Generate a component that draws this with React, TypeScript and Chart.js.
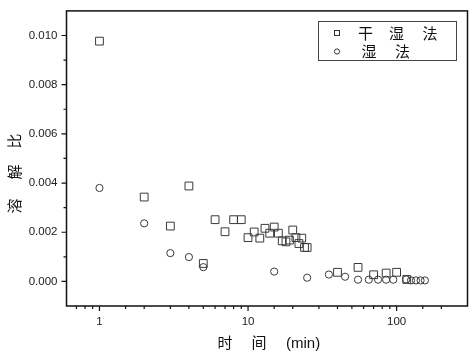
import React, { useEffect, useRef } from "react";
import { Chart, registerables } from "chart.js";
Chart.register(...registerables);

// 干湿法 (squares)
const dryWetX = [1, 2, 3, 4, 5, 6, 7, 8, 9, 10, 11, 12, 13, 14, 15, 16, 17, 18, 19, 20, 21, 22, 23, 24, 25, 40, 55, 70, 85, 100, 117];
const dryWetY = [0.00977, 0.00343, 0.00225, 0.00388, 0.00073, 0.00251, 0.00202, 0.00251, 0.00251, 0.00178, 0.00201, 0.00176, 0.00216, 0.00196, 0.00221, 0.00196, 0.00165, 0.00161, 0.00168, 0.00209, 0.00178, 0.00154, 0.00176, 0.00138, 0.00138, 0.00037, 0.00057, 0.00027, 0.00034, 0.00037, 0.00008];
// 湿法 (circles)
const wetX = [1, 2, 3, 4, 5, 15, 25, 35, 45, 55, 65, 75, 85, 95, 116, 125, 135, 145, 155];
const wetY = [0.0038, 0.00236, 0.00115, 0.00099, 0.00058, 0.0004, 0.00015, 0.00028, 0.00019, 0.00007, 0.00007, 0.00007, 0.00007, 0.00007, 0.00008, 0.00004, 0.00004, 0.00004, 0.00004];

const seriesNames = ["干湿法", "湿法"];
const xTitleParts = ["时", "间", "(min)"];
const yTitleChars = ["溶", "解", "比"];
const xMajorTicks = [1, 10, 100];
const xMin = 0.6;
const xMax = 300;
const yMin = -0.001;
const yMax = 0.011;
const yStep = 0.001;

const isMajorLog = (v: number) => Math.abs(Math.log10(v) - Math.round(Math.log10(v))) < 1e-6;
const isMajorY = (v: number) => Math.abs(Math.round(v * 1000)) % 2 === 0;

const CJK = '"Noto Sans CJK SC", "Noto Sans", sans-serif';
const LAT = '"Liberation Sans", Arial, sans-serif';

const decor = {
  id: "decor",
  afterDraw(chart: any) {
    const { ctx, chartArea: a, scales } = chart;
    const xs = scales.x;
    const ys = scales.y;
    ctx.save();
    // frame
    ctx.strokeStyle = "#111";
    ctx.lineWidth = 1.5;
    ctx.strokeRect(a.left, a.top, a.right - a.left, a.bottom - a.top);
    // ticks
    ctx.lineWidth = 1.2;
    ctx.beginPath();
    xs.ticks.forEach((t: any) => {
      const px = xs.getPixelForValue(t.value);
      if (px < a.left + 1 || px > a.right - 1) return;
      const len = isMajorLog(t.value) ? 5 : 3;
      ctx.moveTo(px, a.bottom);
      ctx.lineTo(px, a.bottom + len);
    });
    ys.ticks.forEach((t: any) => {
      const py = ys.getPixelForValue(t.value);
      if (py < a.top + 1 || py > a.bottom - 1) return;
      const len = isMajorY(t.value) ? 5 : 3;
      ctx.moveTo(a.left, py);
      ctx.lineTo(a.left - len, py);
    });
    ctx.stroke();

    // axis titles
    ctx.fillStyle = "#111";
    ctx.textBaseline = "alphabetic";
    ctx.textAlign = "center";
    ctx.font = `15px ${CJK}`;
    ctx.fillText(xTitleParts[0], 225, 348);
    ctx.fillText(xTitleParts[1], 259, 348);
    ctx.font = `15px ${LAT}`;
    ctx.textAlign = "left";
    ctx.fillText(xTitleParts[2], 286, 348);

    ctx.textBaseline = "middle";
    ctx.font = `15px ${CJK}`;
    ctx.textAlign = "center";
    const yCharPos = [206, 172, 141];
    yTitleChars.forEach((c, i) => {
      ctx.save();
      ctx.translate(14, yCharPos[i]);
      ctx.rotate(-Math.PI / 2);
      ctx.fillText(c, 0, 0);
      ctx.restore();
    });

    // legend
    ctx.strokeStyle = "#444";
    ctx.lineWidth = 1;
    ctx.strokeRect(318.5, 21.5, 138, 39);
    ctx.strokeStyle = "#333";
    ctx.strokeRect(334.5, 30.5, 5, 5);
    ctx.beginPath();
    ctx.arc(337, 51.5, 2.6, 0, Math.PI * 2);
    ctx.stroke();
    ctx.font = `15px ${CJK}`;
    ctx.fillStyle = "#111";
    const row1 = Array.from(seriesNames[0]);
    const row1X = [365.5, 396.5, 430];
    row1.forEach((c, i) => ctx.fillText(c, row1X[i], 33));
    const row2 = Array.from(seriesNames[1]);
    const row2X = [369, 402.5];
    row2.forEach((c, i) => ctx.fillText(c, row2X[i], 51.5));
    ctx.restore();
  },
};

export default function App() {
  const ref = useRef<HTMLCanvasElement | null>(null);
  useEffect(() => {
    if (!ref.current) return;
    const chart = new Chart(ref.current, {
      type: "scatter",
      data: {
        datasets: [
          {
            label: seriesNames[0],
            data: dryWetX.map((x, i) => ({ x, y: dryWetY[i] })),
            pointStyle: "rect",
            pointRadius: 5.5,
            borderColor: "#3a3a3a",
            backgroundColor: "rgba(0,0,0,0)",
            borderWidth: 1,
          },
          {
            label: seriesNames[1],
            data: wetX.map((x, i) => ({ x, y: wetY[i] })),
            pointStyle: "circle",
            pointRadius: 3.6,
            borderColor: "#3a3a3a",
            backgroundColor: "rgba(0,0,0,0)",
            borderWidth: 1,
          },
        ],
      },
      options: {
        animation: false,
        responsive: true,
        maintainAspectRatio: false,
        events: [],
        layout: { padding: { top: 8, right: 4, left: 0, bottom: 0 } },
        plugins: { legend: { display: false }, tooltip: { enabled: false } },
        scales: {
          x: {
            type: "logarithmic",
            min: xMin,
            max: xMax,
            border: { display: false },
            grid: { drawOnChartArea: false, drawTicks: true, tickLength: 5, color: "rgba(0,0,0,0)", tickColor: "rgba(0,0,0,0)" },
            ticks: {
              autoSkip: false,
              maxRotation: 0,
              padding: 4,
              color: "#222",
              font: { family: LAT, size: 11.5 },
              callback: (v: any) => {
                const n = Number(v);
                return xMajorTicks.some((m) => Math.abs(m - n) < 1e-9) ? String(n) : "";
              },
            },
            afterFit: (s: any) => {
              s.height = 51;
            },
          },
          y: {
            min: yMin,
            max: yMax,
            border: { display: false },
            grid: { drawOnChartArea: false, drawTicks: true, tickLength: 5, color: "rgba(0,0,0,0)", tickColor: "rgba(0,0,0,0)" },
            ticks: {
              stepSize: yStep,
              autoSkip: false,
              padding: 4,
              color: "#222",
              font: { family: LAT, size: 11.5 },
              callback: (v: any) => {
                const n = Number(v);
                return isMajorY(n) ? n.toFixed(3) : "";
              },
            },
            afterFit: (s: any) => {
              s.width = 66.5;
            },
          },
        },
      },
      plugins: [decor],
    });
    return () => chart.destroy();
  }, []);
  return (
    <div style={{ position: "fixed", left: 0, top: 0, width: 474, height: 357, background: "#fff" }}>
      <canvas ref={ref} />
    </div>
  );
}
